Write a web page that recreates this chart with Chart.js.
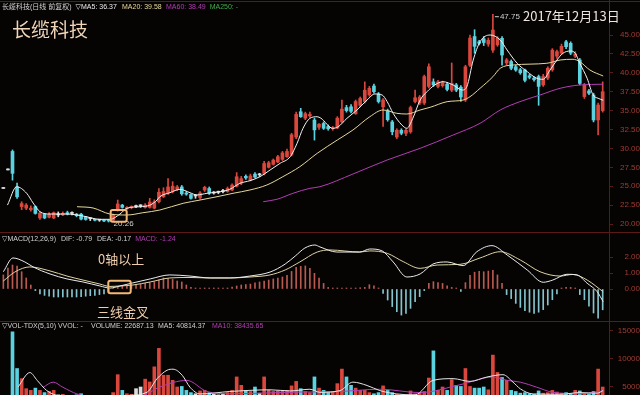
<!DOCTYPE html>
<html>
<head>
    <meta charset="utf-8">
    <title>长缆科技 日线 / MACD / VOL</title>
    <script src="https://cdn.jsdelivr.net/npm/chart.js"></script>
    <style>
        body { margin: 0; background: #060303; }
        #wrap { position: relative; width: 640px; height: 395px; overflow: hidden; background: #060303; }
        #wrap canvas { position: absolute; left: 0; }
    </style>
</head>
<body>
    <div id="wrap">
        <canvas id="priceChart" width="640" height="233" style="top:0px"></canvas>
        <canvas id="macdChart" width="640" height="89" style="top:233px"></canvas>
        <canvas id="volChart" width="640" height="73" style="top:322px"></canvas>
    </div>

    <script>
        // daily bars, index 0..131 (first two are one-price limit-up days)
        var open = [
            24.7, 27.15, 29.6, 24.9, 22.3, 22.1, 21.9, 22.3, 20.8, 21.3,
            20.9, 20.8, 21.2, 21.2, 21.5, 21.4, 21.3, 21.3, 20.95, 20.7,
            20.6, 20.5, 20.5, 20.45, 20.5, 21.85, 22.5, 22.05, 22.2, 22.3,
            22.4, 22.2, 22.2, 22.1, 22.95, 23.6, 24.1, 24.3, 24.6, 24.9,
            24.1, 23.9, 23.7, 23.5, 24.5, 24.7, 24.1, 24.2, 24.3, 24.3,
            24.5, 25.0, 25.4, 26.3, 25.8, 26.6, 26.5, 26.7, 27.5, 27.9,
            28.2, 28.55, 28.9, 29.2, 31.5, 34.85, 34.0, 34.3, 33.75, 32.8,
            33.3, 32.9, 32.6, 32.7, 33.5, 35.4, 35.5, 34.6, 35.7, 36.2,
            37.1, 38.25, 37.2, 35.5, 35.0, 33.5, 31.5, 32.4, 32.0, 32.2,
            36.2, 36.0, 36.0, 38.2, 38.8, 38.2, 38.3, 38.5, 37.7, 38.4,
            38.1, 36.4, 41.0, 44.8, 44.1, 44.5, 43.8, 43.0, 43.7, 44.56,
            41.3, 41.5, 40.8, 40.4, 40.37, 39.6, 39.3, 39.5, 38.4, 39.3,
            40.4, 42.2, 42.6, 44.1, 43.9, 42.2, 41.7, 36.85, 37.6, 37.06,
            33.76, 35.0
        ];
        var high = [
            24.7, 27.15, 29.8, 25.4, 22.95, 22.7, 22.4, 22.4, 21.6, 21.4,
            21.5, 21.6, 21.6, 21.6, 21.7, 21.6, 21.4, 21.4, 21.0, 20.8,
            20.7, 20.6, 20.6, 20.55, 21.3, 23.17, 22.6, 22.3, 22.4, 22.5,
            22.55, 22.7, 23.4, 23.2, 24.7, 24.8, 26.0, 25.6, 25.1, 25.1,
            24.3, 24.0, 23.9, 24.3, 25.0, 24.9, 24.3, 24.35, 24.6, 24.9,
            25.3, 26.8, 26.3, 26.5, 26.6, 26.8, 26.7, 28.3, 28.3, 28.6,
            29.1, 29.6, 29.9, 32.0, 34.8, 35.3, 34.8, 34.8, 34.0, 33.3,
            33.5, 33.1, 32.9, 34.2, 36.4, 35.7, 35.8, 36.4, 36.8, 38.8,
            38.2, 38.5, 37.4, 36.6, 35.2, 33.7, 32.6, 32.6, 32.6, 35.6,
            37.7, 37.0, 39.7, 41.2, 39.2, 39.0, 38.9, 38.7, 41.3, 38.6,
            38.3, 41.0, 45.0, 45.7, 44.3, 44.8, 44.6, 47.75, 44.8, 44.8,
            41.9, 41.7, 41.0, 40.6, 40.5, 39.8, 39.5, 39.7, 39.8, 40.8,
            43.2, 43.0, 43.8, 44.3, 44.1, 42.8, 41.9, 38.6, 37.8, 37.3,
            36.0, 38.8
        ];
        var low = [
            24.7, 27.15, 25.8, 23.4, 21.9, 21.9, 21.7, 21.3, 20.6, 20.7,
            20.8, 20.7, 20.95, 21.1, 21.2, 21.2, 20.95, 20.55, 20.5, 20.45,
            20.4, 20.35, 20.3, 20.26, 20.4, 21.7, 22.1, 21.9, 22.0, 22.15,
            22.2, 22.1, 22.1, 22.0, 22.8, 23.5, 23.9, 24.1, 24.4, 23.8,
            23.8, 23.3, 23.4, 23.3, 24.3, 23.9, 23.95, 24.0, 24.1, 24.2,
            24.4, 24.9, 25.2, 25.9, 25.7, 26.1, 26.3, 26.5, 27.4, 27.8,
            28.1, 28.4, 28.8, 29.0, 31.3, 34.1, 33.8, 34.1, 31.1, 32.5,
            32.5, 32.4, 32.4, 32.6, 33.4, 34.8, 34.7, 34.5, 35.5, 36.0,
            36.9, 37.3, 36.0, 32.9, 33.6, 31.8, 31.3, 31.8, 31.7, 32.0,
            36.0, 35.8, 35.8, 38.0, 38.2, 38.0, 38.1, 37.6, 37.5, 37.5,
            36.2, 36.2, 40.8, 42.6, 43.7, 43.6, 43.5, 42.7, 43.5, 41.0,
            41.0, 40.4, 40.2, 39.8, 38.8, 39.2, 38.9, 35.7, 38.2, 39.1,
            40.2, 41.9, 42.4, 43.2, 42.4, 42.0, 38.4, 36.6, 37.1, 33.5,
            31.77, 34.8
        ];
        var close = [
            24.7, 27.15, 26.7, 23.6, 22.7, 22.5, 22.1, 21.4, 21.45, 20.8,
            21.3, 21.5, 21.2, 21.4, 21.3, 21.4, 21.1, 20.65, 20.6, 20.7,
            20.5, 20.5, 20.4, 20.4, 21.2, 22.65, 22.2, 22.1, 22.3, 22.3,
            22.4, 22.5, 22.9, 22.95, 24.2, 24.3, 24.9, 25.0, 24.9, 24.0,
            23.95, 23.4, 23.7, 24.1, 24.85, 24.1, 24.1, 24.2, 24.3, 24.7,
            25.15, 26.25, 26.0, 26.1, 26.35, 26.2, 26.5, 28.0, 28.1, 28.45,
            28.9, 29.4, 29.6, 31.8, 34.5, 34.2, 34.6, 34.5, 32.45, 33.2,
            32.66, 32.6, 32.7, 34.0, 35.2, 35.0, 34.9, 36.2, 36.6, 37.7,
            37.95, 37.5, 36.2, 36.4, 33.8, 32.2, 32.4, 32.0, 32.4, 35.4,
            36.7, 36.8, 39.5, 40.8, 38.4, 38.8, 38.7, 37.8, 38.6, 37.7,
            36.8, 40.8, 44.6, 43.5, 43.9, 44.0, 44.3, 45.66, 44.6, 42.35,
            41.7, 40.6, 40.37, 40.0, 39.0, 39.4, 39.1, 38.2, 39.5, 40.6,
            43.0, 42.8, 43.5, 43.45, 42.6, 42.5, 38.6, 38.4, 37.3, 33.76,
            35.74, 37.5
        ];
        var volume = [
            300, 400, 14850, 8300, 6500, 4700, 4400, 4800, 4400, 4000,
            4200, 4400, 3600, 3700, 3500, 3400, 3600, 3800, 3500, 3300,
            3400, 3200, 3300, 3500, 4000, 7200, 4400, 3800, 3700, 4700,
            5000, 6400, 5900, 8600, 11900, 7100, 7100, 6200, 5000, 5100,
            4400, 4000, 3800, 4300, 4400, 4000, 3700, 3600, 3800, 4000,
            4400, 6800, 5300, 4400, 4200, 5000, 3900, 6800, 4400, 4200,
            4300, 4400, 4400, 5200, 6000, 4700, 4200, 4000, 6800, 4800,
            4400, 4000, 4200, 5600, 8200, 6800, 5300, 4800, 4400, 4400,
            4000, 3800, 4000, 5200, 4400, 4000, 3700, 3600, 3600, 4300,
            3800, 3900, 4200, 6600, 11450, 4400, 5000, 4400, 6300, 5300,
            5100, 8300, 5100, 4800, 4800, 5000, 4500, 10700, 7600, 6700,
            6200, 4400, 4200, 3900, 4000, 3800, 3700, 4300, 3900, 4000,
            4400, 4100, 3900, 4000, 3800, 4400, 4300, 3900, 3800, 4200,
            8200, 5000
        ];
        var macdBar = [
            0.88, 1.31, 1.5, 1.44, 1.08, 0.69, 0.25, -0.1, -0.3, -0.4,
            -0.45, -0.5, -0.5, -0.5, -0.5, -0.5, -0.5, -0.48, -0.45, -0.42,
            -0.4, -0.35, -0.3, -0.2, 0.05, 0.15, 0.2, 0.22, 0.25, 0.28,
            0.3, 0.35, 0.4, 0.45, 0.56, 0.69, 0.65, 0.6, 0.5, 0.44,
            0.25, 0.1, 0.02, 0.02, 0.03, 0.02, 0.02, 0.02, 0.03, 0.05,
            0.12, 0.19, 0.25, 0.28, 0.31, 0.38, 0.44, 0.5, 0.56, 0.63,
            0.69, 0.75, 0.85, 1.1, 1.35, 1.42, 1.44, 1.29, 0.98, 0.69,
            0.35, 0.1, 0.04, 0.04, 0.05, 0.04, 0.03, 0.05, 0.08, 0.1,
            0.27, 0.2, 0.05, -0.27, -0.69, -1.1, -1.42, -1.63, -1.52, -1.21,
            -0.79, -0.48, -0.1, 0.35, 0.46, 0.4, 0.35, 0.2, 0.1, 0.02,
            -0.15, 0.4, 0.85, 1.05, 1.1, 1.08, 1.12, 1.17, 0.88, 0.35,
            -0.35, -0.6, -0.9, -1.15, -1.35, -1.45, -1.52, -1.45, -1.29, -1.0,
            -0.67, -0.3, 0.06, 0.1, 0.1, 0.05, -0.35, -0.67, -1.08, -1.5,
            -1.83, -1.3
        ];

        // moving-average lines as [day, value]
        var ma5Pts = [[0.9,22.5],[2.9,24.93],[5.1,24.06],[6.5,22.78],[8.0,21.63],[10.2,21.32],[13.9,21.32],[17.4,21.06],[21.1,20.62],[23.3,20.62],[25.5,21.32],[27.0,22.08],[29.9,22.29],[32.1,22.51],[33.6,23.17],[34.2,23.61],[36.4,24.14],[38.6,24.59],[40.8,24.14],[42.3,23.84],[44.5,24.06],[47.4,24.27],[49.5,24.59],[51.7,25.38],[53.9,25.73],[56.1,26.26],[58.3,27.14],[60.5,28.03],[62.7,28.9],[64.2,30.67],[65.5,32.66],[67.0,33.98],[68.6,34.19],[69.4,34.0],[72.0,32.66],[73.2,32.87],[75.1,33.98],[77.3,35.08],[79.5,36.4],[81.2,37.2],[82.8,37.06],[83.9,36.18],[85.2,34.64],[87.1,33.1],[88.2,32.66],[89.5,33.98],[91.1,36.4],[92.6,37.5],[94.3,38.39],[96.1,38.82],[98.3,38.39],[100.3,37.72],[101.3,38.16],[102.7,41.69],[104.2,44.11],[106.4,45.0],[108.6,44.34],[110.1,43.02],[112.3,41.26],[114.5,40.15],[116.6,39.27],[118.0,39.14],[119.5,40.37],[121.0,41.69],[122.3,42.58],[123.9,42.88],[125.0,42.58],[126.0,41.26],[127.6,39.27],[128.9,37.06],[130.0,36.63],[131.1,36.37]];
        var ma20Pts = [[16.1,22.29],[19.6,22.12],[23.3,21.32],[27.0,21.19],[30.5,21.49],[34.2,21.85],[39.3,22.74],[43.0,23.17],[46.7,23.61],[50.2,24.06],[53.9,24.5],[57.6,25.16],[61.1,26.26],[64.8,27.58],[68.6,29.35],[73.0,31.11],[76.4,32.43],[80.1,34.19],[83.0,35.08],[86.0,34.64],[88.2,34.55],[91.1,35.08],[93.3,35.44],[97.0,36.18],[100.5,36.4],[102.0,36.84],[104.2,37.95],[107.0,39.48],[108.6,40.6],[111.4,41.03],[118.8,41.26],[121.7,41.69],[124.5,41.79],[126.0,41.47],[128.2,40.37],[131.1,39.58]];
        var ma60Pts = [[56.8,22.95],[59.8,23.27],[63.3,24.06],[67.0,24.72],[69.2,24.93],[76.4,26.61],[83.9,28.47],[91.1,30.01],[98.3,31.77],[104.2,33.32],[108.6,35.08],[112.9,36.18],[117.3,37.06],[121.7,37.95],[126.0,38.39],[131.1,38.49]];

        var difPts = [[0,1.08],[2.1,1.94],[4.7,1.69],[6.5,1.38],[10.2,0.94],[13.9,0.63],[17.4,0.44],[21.1,0.19],[23.3,0.06],[25.5,0.19],[28.3,0.38],[32.1,0.63],[36.4,0.88],[40.8,0.81],[45.2,0.69],[49.5,0.69],[53.9,0.81],[58.3,1.06],[61.6,1.56],[63.8,2.06],[65.9,2.56],[68.1,2.75],[69.2,2.63],[72.9,2.31],[77.9,2.31],[80.1,2.5],[82.8,2.38],[85.2,1.69],[88.2,0.75],[91.1,0.94],[93.9,1.56],[97.0,1.69],[100.5,1.46],[103.5,2.33],[106.8,2.71],[110.1,2.13],[114.5,1.19],[118.0,0.42],[120.1,0.56],[123.2,0.92],[125.4,0.88],[127.6,0.36],[129.8,-0.17],[131.1,-0.79]];
        var deaPts = [[0,0.5],[2.5,1.06],[5.8,1.38],[10.2,1.13],[13.9,0.81],[17.4,0.56],[21.1,0.31],[23.3,0.16],[25.5,0.19],[28.3,0.25],[32.1,0.44],[36.4,0.69],[40.8,0.72],[45.2,0.69],[49.5,0.69],[53.9,0.75],[58.3,0.88],[61.6,1.19],[64.8,1.69],[68.6,2.31],[71.4,2.44],[77.9,2.31],[80.1,2.38],[83.9,2.23],[87.4,1.71],[91.1,1.29],[94.8,1.5],[99.8,1.54],[104.2,1.94],[108.6,2.33],[113.0,1.81],[117.3,1.08],[121.7,0.81],[124.5,0.91],[127.6,0.56],[131.1,-0.17]];

        var volMa5Pts = [[3.2,5000],[5.8,7580],[7.4,6180],[9.5,4360],[12.4,3400],[21.1,3200],[27.7,3500],[31.4,4050],[33.6,6490],[35.8,8000],[37.1,8180],[39.1,7090],[40.8,4960],[43,3760],[49.5,4200],[53.9,4400],[58.3,4500],[62.7,4300],[67,4600],[69.2,4050],[73.6,4360],[76.4,5870],[79.5,5270],[82.3,4360],[86,3760],[90,3600],[93.9,6180],[98.3,6490],[102,6000],[105.7,6780],[109.2,7200],[111.4,5870],[113,4670],[115.8,3760],[121.7,3700],[126,4000],[129.8,3900],[131.1,4360]];
        var volMa10Pts = [[8.7,4960],[10.9,5870],[13,4960],[16.1,3760],[21.1,3000],[29.9,3300],[34.2,5000],[40.1,6180],[44.5,4200],[49.5,3800],[64.8,4100],[73.6,4200],[82.3,4600],[91,4000],[99.8,5400],[107,6780],[110.1,6180],[113,5870],[116.6,4960],[120.1,4050],[126,3800],[131.1,4300]];

        var priceTicks = [20, 22.5, 25, 27.5, 30, 32.5, 35, 37.5, 40, 42.5, 45];
        var macdTicks = [0, 1, 2];
        var volTicks = [5000, 10000, 15000];

        // ---- look ----
        var UP = '#d9473d', DOWN = '#5ad2e0', FLAT = '#dcdcdc';
        var FRAME = '#5c1a16', TICK_TXT = '#a03c32', GREY = '#d2d2d2', PURPLE = '#b23eb4';
        var FONT = '"Liberation Sans", "DejaVu Sans", "Noto Sans CJK SC", sans-serif';
        var CJK = '"Noto Sans CJK SC", sans-serif';
        var X_MIN = -0.732, X_MAX = 132.38;

        var days = open.map(function (_, i) { return i; });

        function candleColor(i) {
            if (close[i] > open[i]) return UP;
            if (close[i] < open[i]) return DOWN;
            return FLAT;
        }

        function pts(a) {
            return a.map(function (p) { return { x: p[0], y: p[1] }; });
        }

        function lineDs(points, color) {
            return {
                type: 'line', data: pts(points), borderColor: color, borderWidth: 1,
                pointRadius: 0, fill: false, cubicInterpolationMode: 'monotone', order: 0
            };
        }

        function baseOptions(yMin, yMax, ticks, fmt, pad) {
            return {
                responsive: false,
                animation: false,
                devicePixelRatio: 1,
                layout: { padding: 0, autoPadding: false },
                plugins: { legend: { display: false }, tooltip: { enabled: false } },
                scales: {
                    x: { type: 'linear', min: X_MIN, max: X_MAX, display: false, offset: false },
                    y: {
                        position: 'right', min: yMin, max: yMax,
                        border: { display: true, color: FRAME },
                        grid: { display: true, drawOnChartArea: false, drawTicks: true, tickLength: 4, color: FRAME },
                        ticks: {
                            color: TICK_TXT, padding: pad, crossAlign: 'far', autoSkip: false,
                            font: { family: '"Liberation Sans"', size: 8 },
                            callback: fmt
                        },
                        afterBuildTicks: function (s) { s.ticks = ticks.map(function (v) { return { value: v }; }); },
                        afterFit: function (s) { s.width = 31; s.paddingTop = 0; s.paddingBottom = 0; }
                    }
                }
            };
        }

        function hline(ctx, y, w) {
            ctx.beginPath(); ctx.moveTo(0, y); ctx.lineTo(w, y); ctx.stroke();
        }

        // header strings, laid out left to right without overlapping
        function drawSegments(ctx, y, segs) {
            ctx.font = '7px ' + FONT;
            ctx.textBaseline = 'middle';
            ctx.textAlign = 'left';
            var cursor = 0;
            segs.forEach(function (s) {
                var x = Math.max(s.x, cursor);
                ctx.fillStyle = s.c;
                ctx.fillText(s.t, x, y);
                cursor = x + ctx.measureText(s.t).width + 4;
            });
        }

        function box(ctx, xs, ys, x0, x1, v0, v1) {
            var a = xs.getPixelForValue(x0), b = xs.getPixelForValue(x1);
            var c = ys.getPixelForValue(v0), d = ys.getPixelForValue(v1);
            ctx.strokeStyle = '#f2b878';
            ctx.lineWidth = 2;
            ctx.beginPath();
            ctx.roundRect(a, c, b - a, d - c, 2);
            ctx.stroke();
        }

        var priceDecor = {
            id: 'priceDecor',
            afterDraw: function (chart) {
                var ctx = chart.ctx, xs = chart.scales.x, ys = chart.scales.y;
                ctx.save();
                ctx.strokeStyle = FRAME; ctx.lineWidth = 1;
                hline(ctx, 1.5, chart.width);
                hline(ctx, chart.height - 0.5, chart.width);

                drawSegments(ctx, 7, [
                    { t: '长缆科技(日线 前复权)', x: 2, c: GREY },
                    { t: '▽MA5: 36.37', x: 74, c: '#ececec' },
                    { t: 'MA20: 39.58', x: 122, c: '#e4d99a' },
                    { t: 'MA60: 38.49', x: 166, c: PURPLE },
                    { t: 'MA250: -', x: 208, c: '#3fae4c' }
                ]);

                ctx.font = '19px ' + CJK;
                ctx.fillStyle = '#f0d6b8';
                ctx.fillText('长缆科技', 12, 30);
                ctx.font = '13px ' + CJK;
                ctx.fillStyle = '#ebe6e0';
                ctx.fillText('2017年12月13日', 523, 16);

                // highest and lowest price marks
                var hi = high.indexOf(Math.max.apply(null, high));
                var lo = low.indexOf(Math.min.apply(null, low));
                var hx = xs.getPixelForValue(hi), hy = ys.getPixelForValue(high[hi]);
                var lx = xs.getPixelForValue(lo), ly = ys.getPixelForValue(low[lo]);
                ctx.strokeStyle = '#cfcfcf'; ctx.lineWidth = 1;
                ctx.beginPath(); ctx.moveTo(hx + 2, hy + 2.5); ctx.lineTo(hx + 6, hy + 2.5); ctx.stroke();
                ctx.font = '8px ' + FONT;
                ctx.fillStyle = '#d0d0d0';
                ctx.fillText(high[hi].toFixed(2), hx + 7, hy + 2.5);
                ctx.fillText(low[lo].toFixed(2), lx + 5, ly + 1.5);

                box(ctx, xs, ys, 23.46, 26.96, 21.85, 20.3);
                ctx.restore();
            }
        };

        var macdDecor = {
            id: 'macdDecor',
            afterDraw: function (chart) {
                var ctx = chart.ctx;
                ctx.save();
                ctx.strokeStyle = FRAME; ctx.lineWidth = 1;
                hline(ctx, chart.height - 0.5, chart.width);
                drawSegments(ctx, 6, [
                    { t: '▽MACD(12,26,9)', x: 2, c: GREY },
                    { t: 'DIF: -0.79', x: 61, c: GREY },
                    { t: 'DEA: -0.17', x: 97, c: GREY },
                    { t: 'MACD: -1.24', x: 135, c: PURPLE }
                ]);
                ctx.font = '13px ' + CJK;
                ctx.fillStyle = '#f0cfae';
                ctx.fillText('0轴以上', 98, 26.5);
                ctx.fillText('三线金叉', 97, 79);
                box(ctx, chart.scales.x, chart.scales.y, 22.94, 27.84, 0.52, -0.27);
                ctx.restore();
            }
        };

        var volDecor = {
            id: 'volDecor',
            afterDraw: function (chart) {
                var ctx = chart.ctx;
                ctx.save();
                drawSegments(ctx, 4.5, [
                    { t: '▽VOL-TDX(5,10) VVOL: -', x: 2, c: GREY },
                    { t: 'VOLUME: 22687.13', x: 91, c: GREY },
                    { t: 'MA5: 40814.37', x: 158, c: GREY },
                    { t: 'MA10: 38435.65', x: 212, c: PURPLE }
                ]);
                ctx.restore();
            }
        };

        // price panel: candles + MA5 / MA20 / MA60
        new Chart(document.getElementById('priceChart'), {
            type: 'bar',
            data: {
                datasets: [
                    lineDs(ma5Pts, '#f2f2f2'),
                    lineDs(ma20Pts, '#e4d99a'),
                    lineDs(ma60Pts, PURPLE),
                    {
                        data: days.map(function (i) { return { x: i, y: [open[i], close[i]] }; }),
                        backgroundColor: days.map(candleColor),
                        barThickness: 3, minBarLength: 1, grouped: false, order: 1
                    },
                    {
                        data: days.map(function (i) { return { x: i, y: [low[i], high[i]] }; }),
                        backgroundColor: days.map(candleColor),
                        barThickness: 1, minBarLength: 1, grouped: false, order: 2
                    }
                ]
            },
            options: baseOptions(18.81, 49.63, priceTicks, function (v) { return v.toFixed(2); }, 4),
            plugins: [priceDecor]
        });

        // MACD panel
        new Chart(document.getElementById('macdChart'), {
            type: 'bar',
            data: {
                datasets: [
                    lineDs(difPts, '#ececec'),
                    lineDs(deaPts, '#ddd4a4'),
                    {
                        data: days.map(function (i) { return { x: i, y: macdBar[i] }; }),
                        backgroundColor: macdBar.map(function (v) { return v >= 0 ? '#b85a50' : '#84c4ce'; }),
                        barThickness: 1, minBarLength: 1, grouped: false, order: 1
                    }
                ]
            },
            options: baseOptions(-2.0625, 3.5, macdTicks, function (v) { return v.toFixed(2); }, 8),
            plugins: [macdDecor]
        });

        // volume panel
        new Chart(document.getElementById('volChart'), {
            type: 'bar',
            data: {
                datasets: [
                    lineDs(volMa5Pts, '#e6e6e6'),
                    lineDs(volMa10Pts, PURPLE),
                    {
                        data: days.map(function (i) { return { x: i, y: volume[i] }; }),
                        backgroundColor: days.map(candleColor),
                        barThickness: 3, grouped: false, order: 1
                    }
                ]
            },
            options: baseOptions(3571, 16607, volTicks, function (v) { return String(v); }, 2),
            plugins: [volDecor]
        });
    </script>
</body>
</html>
